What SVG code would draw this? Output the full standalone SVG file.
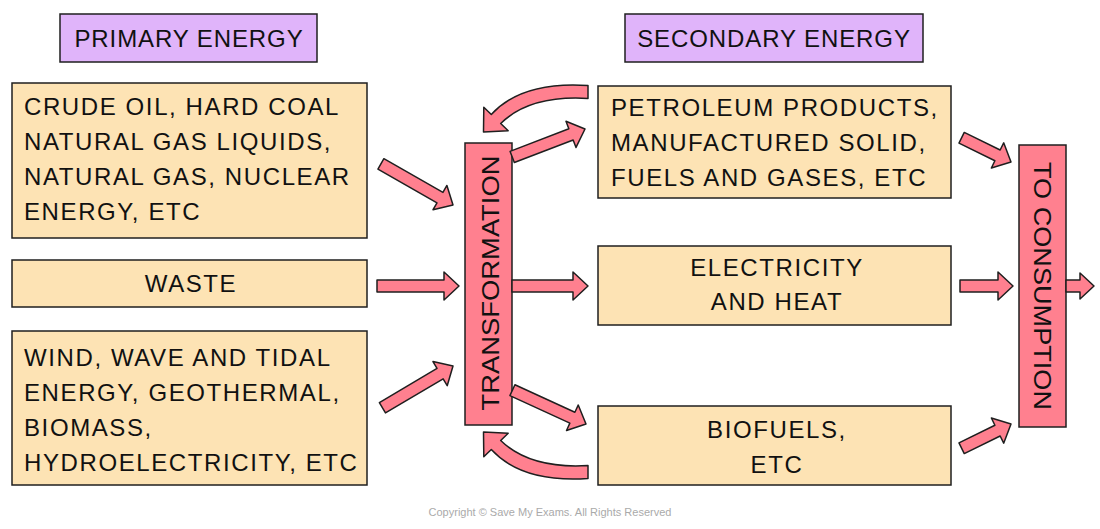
<svg xmlns="http://www.w3.org/2000/svg" width="1100" height="529" viewBox="0 0 1100 529">
  <style>
    .box { fill: #fde3b4; stroke: #1f1f1f; stroke-width: 1.5; }
    .head { fill: #e0b4fa; stroke: #1f1f1f; stroke-width: 1.5; }
    .pink { fill: #ff808f; stroke: #1f1f1f; stroke-width: 1.5; }
    .arrow { fill: #ff808f; stroke: #1f1f1f; stroke-width: 1.5; stroke-linejoin: round; }
    text { font-family: "Liberation Sans", Arial, sans-serif; font-size: 24px; fill: #111; letter-spacing: 1.6px; }
    .h { letter-spacing: 0.9px; }
    .c { text-anchor: middle; }
    .v { letter-spacing: 0; }
    .copy { font-size: 11px; fill: #aaaaaa; letter-spacing: 0; }
  </style>
  <rect width="1100" height="529" fill="#ffffff"/>

  <g id="primary-energy">
    <rect class="head" x="60" y="14" width="257" height="48"/>
    <text class="c h" x="189" y="47">PRIMARY ENERGY</text>
  </g>
  <g id="secondary-energy">
    <rect class="head" x="625" y="14" width="298" height="48"/>
    <text class="c h" x="774" y="47">SECONDARY ENERGY</text>
  </g>

  <g id="fossil">
    <rect class="box" x="12" y="83" width="355" height="155"/>
    <text x="24" y="115">CRUDE OIL, HARD COAL</text>
    <text x="24" y="150">NATURAL GAS LIQUIDS,</text>
    <text x="24" y="185">NATURAL GAS, NUCLEAR</text>
    <text x="24" y="220">ENERGY, ETC</text>
  </g>
  <g id="waste">
    <rect class="box" x="12" y="260" width="355" height="47"/>
    <text class="c" x="191" y="292">WASTE</text>
  </g>
  <g id="renewables">
    <rect class="box" x="12" y="331" width="355" height="154"/>
    <text x="24" y="366">WIND, WAVE AND TIDAL</text>
    <text x="24" y="401">ENERGY, GEOTHERMAL,</text>
    <text x="24" y="436">BIOMASS,</text>
    <text x="24" y="471">HYDROELECTRICITY, ETC</text>
  </g>

  <g id="transformation">
    <rect class="pink" x="465" y="143" width="47" height="282"/>
    <text class="c v" transform="translate(499,283) rotate(-90)" font-size="28" textLength="255" lengthAdjust="spacingAndGlyphs">TRANSFORMATION</text>
  </g>

  <g id="petroleum">
    <rect class="box" x="598" y="86" width="353" height="112"/>
    <text x="611" y="116">PETROLEUM PRODUCTS,</text>
    <text x="611" y="151">MANUFACTURED SOLID,</text>
    <text x="611" y="186">FUELS AND GASES, ETC</text>
  </g>
  <g id="electricity">
    <rect class="box" x="598" y="246" width="353" height="79"/>
    <text class="c" x="777" y="276">ELECTRICITY</text>
    <text class="c" x="777" y="310">AND HEAT</text>
  </g>
  <g id="biofuels">
    <rect class="box" x="598" y="406" width="353" height="79"/>
    <text class="c" x="777" y="438">BIOFUELS,</text>
    <text class="c" x="777" y="473">ETC</text>
  </g>

  <g id="consumption">
    <rect class="pink" x="1019" y="145" width="47" height="282"/>
    <text class="c v" transform="translate(1034,286) rotate(90)" font-size="25" textLength="248" lengthAdjust="spacingAndGlyphs">TO CONSUMPTION</text>
  </g>

  <g id="connectors">
    <!-- fossil -> transformation -->
    <g transform="translate(453,205) rotate(29.7)"><polygon class="arrow" points="0,0 -15,-14 -15,-6 -83,-6 -83,6 -15,6 -15,14"/></g>
    <!-- waste -> transformation -->
    <g transform="translate(459,286)"><polygon class="arrow" points="0,0 -15,-14 -15,-6 -82,-6 -82,6 -15,6 -15,14"/></g>
    <!-- renewables -> transformation -->
    <g transform="translate(453,366) rotate(-30.6)"><polygon class="arrow" points="0,0 -15,-14 -15,-6 -82,-6 -82,6 -15,6 -15,14"/></g>
    <!-- transformation -> petroleum -->
    <g transform="translate(585,129) rotate(-21)"><polygon class="arrow" points="0,0 -15,-14 -15,-6 -78,-6 -78,6 -15,6 -15,14"/></g>
    <!-- transformation -> electricity -->
    <g transform="translate(588,286)"><polygon class="arrow" points="0,0 -15,-14 -15,-6 -76,-6 -76,6 -15,6 -15,14"/></g>
    <!-- transformation -> biofuels -->
    <g transform="translate(586,424) rotate(24.7)"><polygon class="arrow" points="0,0 -15,-14 -15,-6 -81,-6 -81,6 -15,6 -15,14"/></g>
    <!-- petroleum -> transformation (curved) -->
    <path class="arrow" d="M588,85.5 Q522,81 491.3,114.5 L483.8,107.2 L483.5,131.9 L508.2,130.8 L500.7,123.5 Q530,95 588,98.5 Z"/>
    <!-- biofuels -> transformation (curved) -->
    <path class="arrow" d="M588,478.5 Q522,483 491.3,449.5 L483.8,456.8 L483.5,432.1 L508.2,433.2 L500.7,440.5 Q530,469 588,465.5 Z"/>
    <!-- petroleum -> consumption -->
    <g transform="translate(1011,162) rotate(26.1)"><polygon class="arrow" points="0,0 -15,-14 -15,-6 -55,-6 -55,6 -15,6 -15,14"/></g>
    <!-- electricity -> consumption -->
    <g transform="translate(1013,286)"><polygon class="arrow" points="0,0 -15,-14 -15,-6 -53,-6 -53,6 -15,6 -15,14"/></g>
    <!-- biofuels -> consumption -->
    <g transform="translate(1011,424) rotate(-26.1)"><polygon class="arrow" points="0,0 -15,-14 -15,-6 -55,-6 -55,6 -15,6 -15,14"/></g>
    <!-- consumption out -->
    <g transform="translate(1094,286)"><polygon class="arrow" points="0,0 -14,-13 -14,-6 -28,-6 -28,6 -14,6 -14,13"/></g>
  </g>

  <text class="copy c" x="550" y="516">Copyright © Save My Exams. All Rights Reserved</text>
</svg>
